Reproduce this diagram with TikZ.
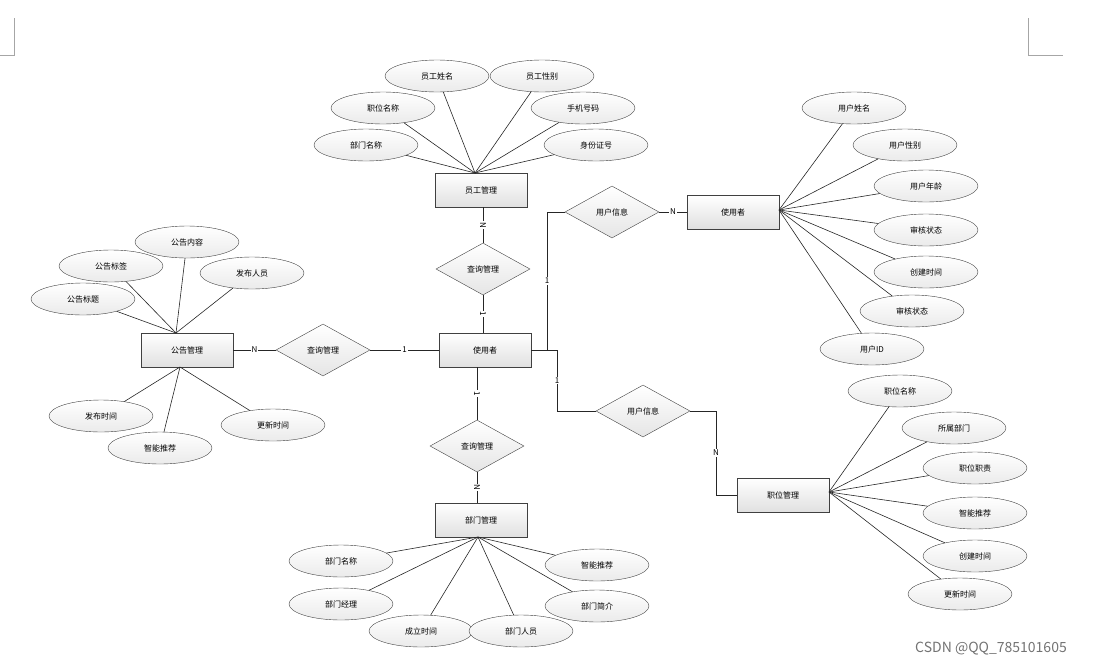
\documentclass[tikz,border=0pt]{standalone}
\usepackage{fontspec}
\setmainfont{Noto Sans CJK SC}
\usetikzlibrary{shapes.geometric}
\begin{document}
\begin{tikzpicture}[x=1pt,y=-1pt,
  font=\fontsize{8}{9}\selectfont,
  ent/.style={draw=black!75,top color=white,bottom color=black!12,minimum width=92pt,minimum height=34pt,inner sep=0pt},
  att/.style={ellipse,draw=black!75,top color=white,bottom color=black!8,minimum width=104pt,minimum height=32pt,inner sep=0pt},
  rel/.style={diamond,draw=black!75,top color=white,bottom color=black!10,minimum width=94pt,minimum height=52pt,inner sep=0pt,aspect=1.8},
  ln/.style={draw=black!85,line width=0.6pt},
  lab/.style={fill=white,inner sep=1pt,font=\fontsize{8}{9}\selectfont}]
\useasboundingbox (0,0) rectangle (1105,667);
\draw[black!35] (14,18) -- (14,55) -- (0,55);
\draw[black!35] (1028,18) -- (1028,55) -- (1063,55);
% entities
\node[ent] (yg) at (481,190) {员工管理};
\node[ent] (syz) at (485,350) {使用者};
\node[ent] (syz2) at (733,212) {使用者};
\node[ent] (gg) at (187,350) {公告管理};
\node[ent] (bm) at (481,520) {部门管理};
\node[ent] (zw) at (783,495) {职位管理};
% relations
\node[rel] (r1) at (483,269) {查询管理};
\node[rel] (r2) at (323,350) {查询管理};
\node[rel] (r3) at (477,446) {查询管理};
\node[rel] (r4) at (612,212) {用户信息};
\node[rel] (r5) at (643,411) {用户信息};
% relation links
\draw[ln] (yg.south -| r1.north) -- node[lab,rotate=-90]{N} (r1.north);
\draw[ln] (r1.south) -- node[lab,rotate=-90]{1} (syz.north -| r1.south);
\draw[ln] (gg.east) -- node[lab]{N} (r2.west);
\draw[ln] (r2.east) -- node[lab]{1} (syz.west);
\draw[ln] (syz.south -| r3.north) -- node[lab,rotate=-90]{1} (r3.north);
\draw[ln] (r3.south) -- node[lab,rotate=-90]{N} (bm.north -| r3.south);
\coordinate (c1) at (547,350); \coordinate (c2) at (547,212);
\draw[ln] (syz.east) -- (c1) -- node[lab]{1} (c2) -- (r4.west);
\draw[ln] (r4.east) -- node[lab]{N} (syz2.west);
\coordinate (c3) at (557,350); \coordinate (c4) at (557,411);
\draw[ln] (c1) -- (c3) -- node[lab]{1} (c4) -- (r5.west);
\coordinate (c5) at (716,411); \coordinate (c6) at (716,495);
\draw[ln] (r5.east) -- (c5) -- node[lab]{N} (c6) -- (zw.west);
% attributes of 员工管理
\coordinate (p1) at (475,173);
\foreach \n/\x/\y/\t in {a1/437/76/员工姓名,a2/542/76/员工性别,a3/383/108/职位名称,a4/583/108/手机号码,a5/366/145/部门名称,a6/596/145/身份证号}{
  \node[att] (\n) at (\x,\y) {\t};
  \draw[ln] (\n) -- (p1);}
% attributes of 使用者 (right)
\coordinate (p2) at (779,210);
\foreach \n/\x/\y/\t in {b1/854/108/用户姓名,b2/905/145/用户性别,b3/926/186/用户年龄,b4/926/230/审核状态,b5/926/272/创建时间,b6/912/311/审核状态,b7/872/349/用户ID}{
  \node[att] (\n) at (\x,\y) {\t};
  \draw[ln] (\n) -- (p2);}
% attributes of 公告管理
\coordinate (p3) at (176,333);
\foreach \n/\x/\y/\t in {c1a/187/242/公告内容,c2a/111/266/公告标签,c3a/252/273/发布人员,c4a/83/299/公告标题}{
  \node[att] (\n) at (\x,\y) {\t};
  \draw[ln] (\n) -- (p3);}
\coordinate (p4) at (180,367);
\foreach \n/\x/\y/\t in {d1/101/416/发布时间,d2/160/448/智能推荐,d3/273/425/更新时间}{
  \node[att] (\n) at (\x,\y) {\t};
  \draw[ln] (\n) -- (p4);}
% attributes of 部门管理
\coordinate (p5) at (478,537);
\foreach \n/\x/\y/\t in {e1/341/561/部门名称,e2/597/565/智能推荐,e3/341/604/部门经理,e4/597/606/部门简介,e5/421/631/成立时间,e6/521/631/部门人员}{
  \node[att] (\n) at (\x,\y) {\t};
  \draw[ln] (\n) -- (p5);}
% attributes of 职位管理
\coordinate (p6) at (829,492);
\foreach \n/\x/\y/\t in {f1/900/391/职位名称,f2/954/428/所属部门,f3/975/468/职位职责,f4/975/513/智能推荐,f5/975/556/创建时间,f6/960/594/更新时间}{
  \node[att] (\n) at (\x,\y) {\t};
  \draw[ln] (\n) -- (p6);}
\node[black!55,font=\fontsize{14}{16}\selectfont] (wm) at (991,649) {CSDN @QQ\_785101605};
\end{tikzpicture}
\end{document}
